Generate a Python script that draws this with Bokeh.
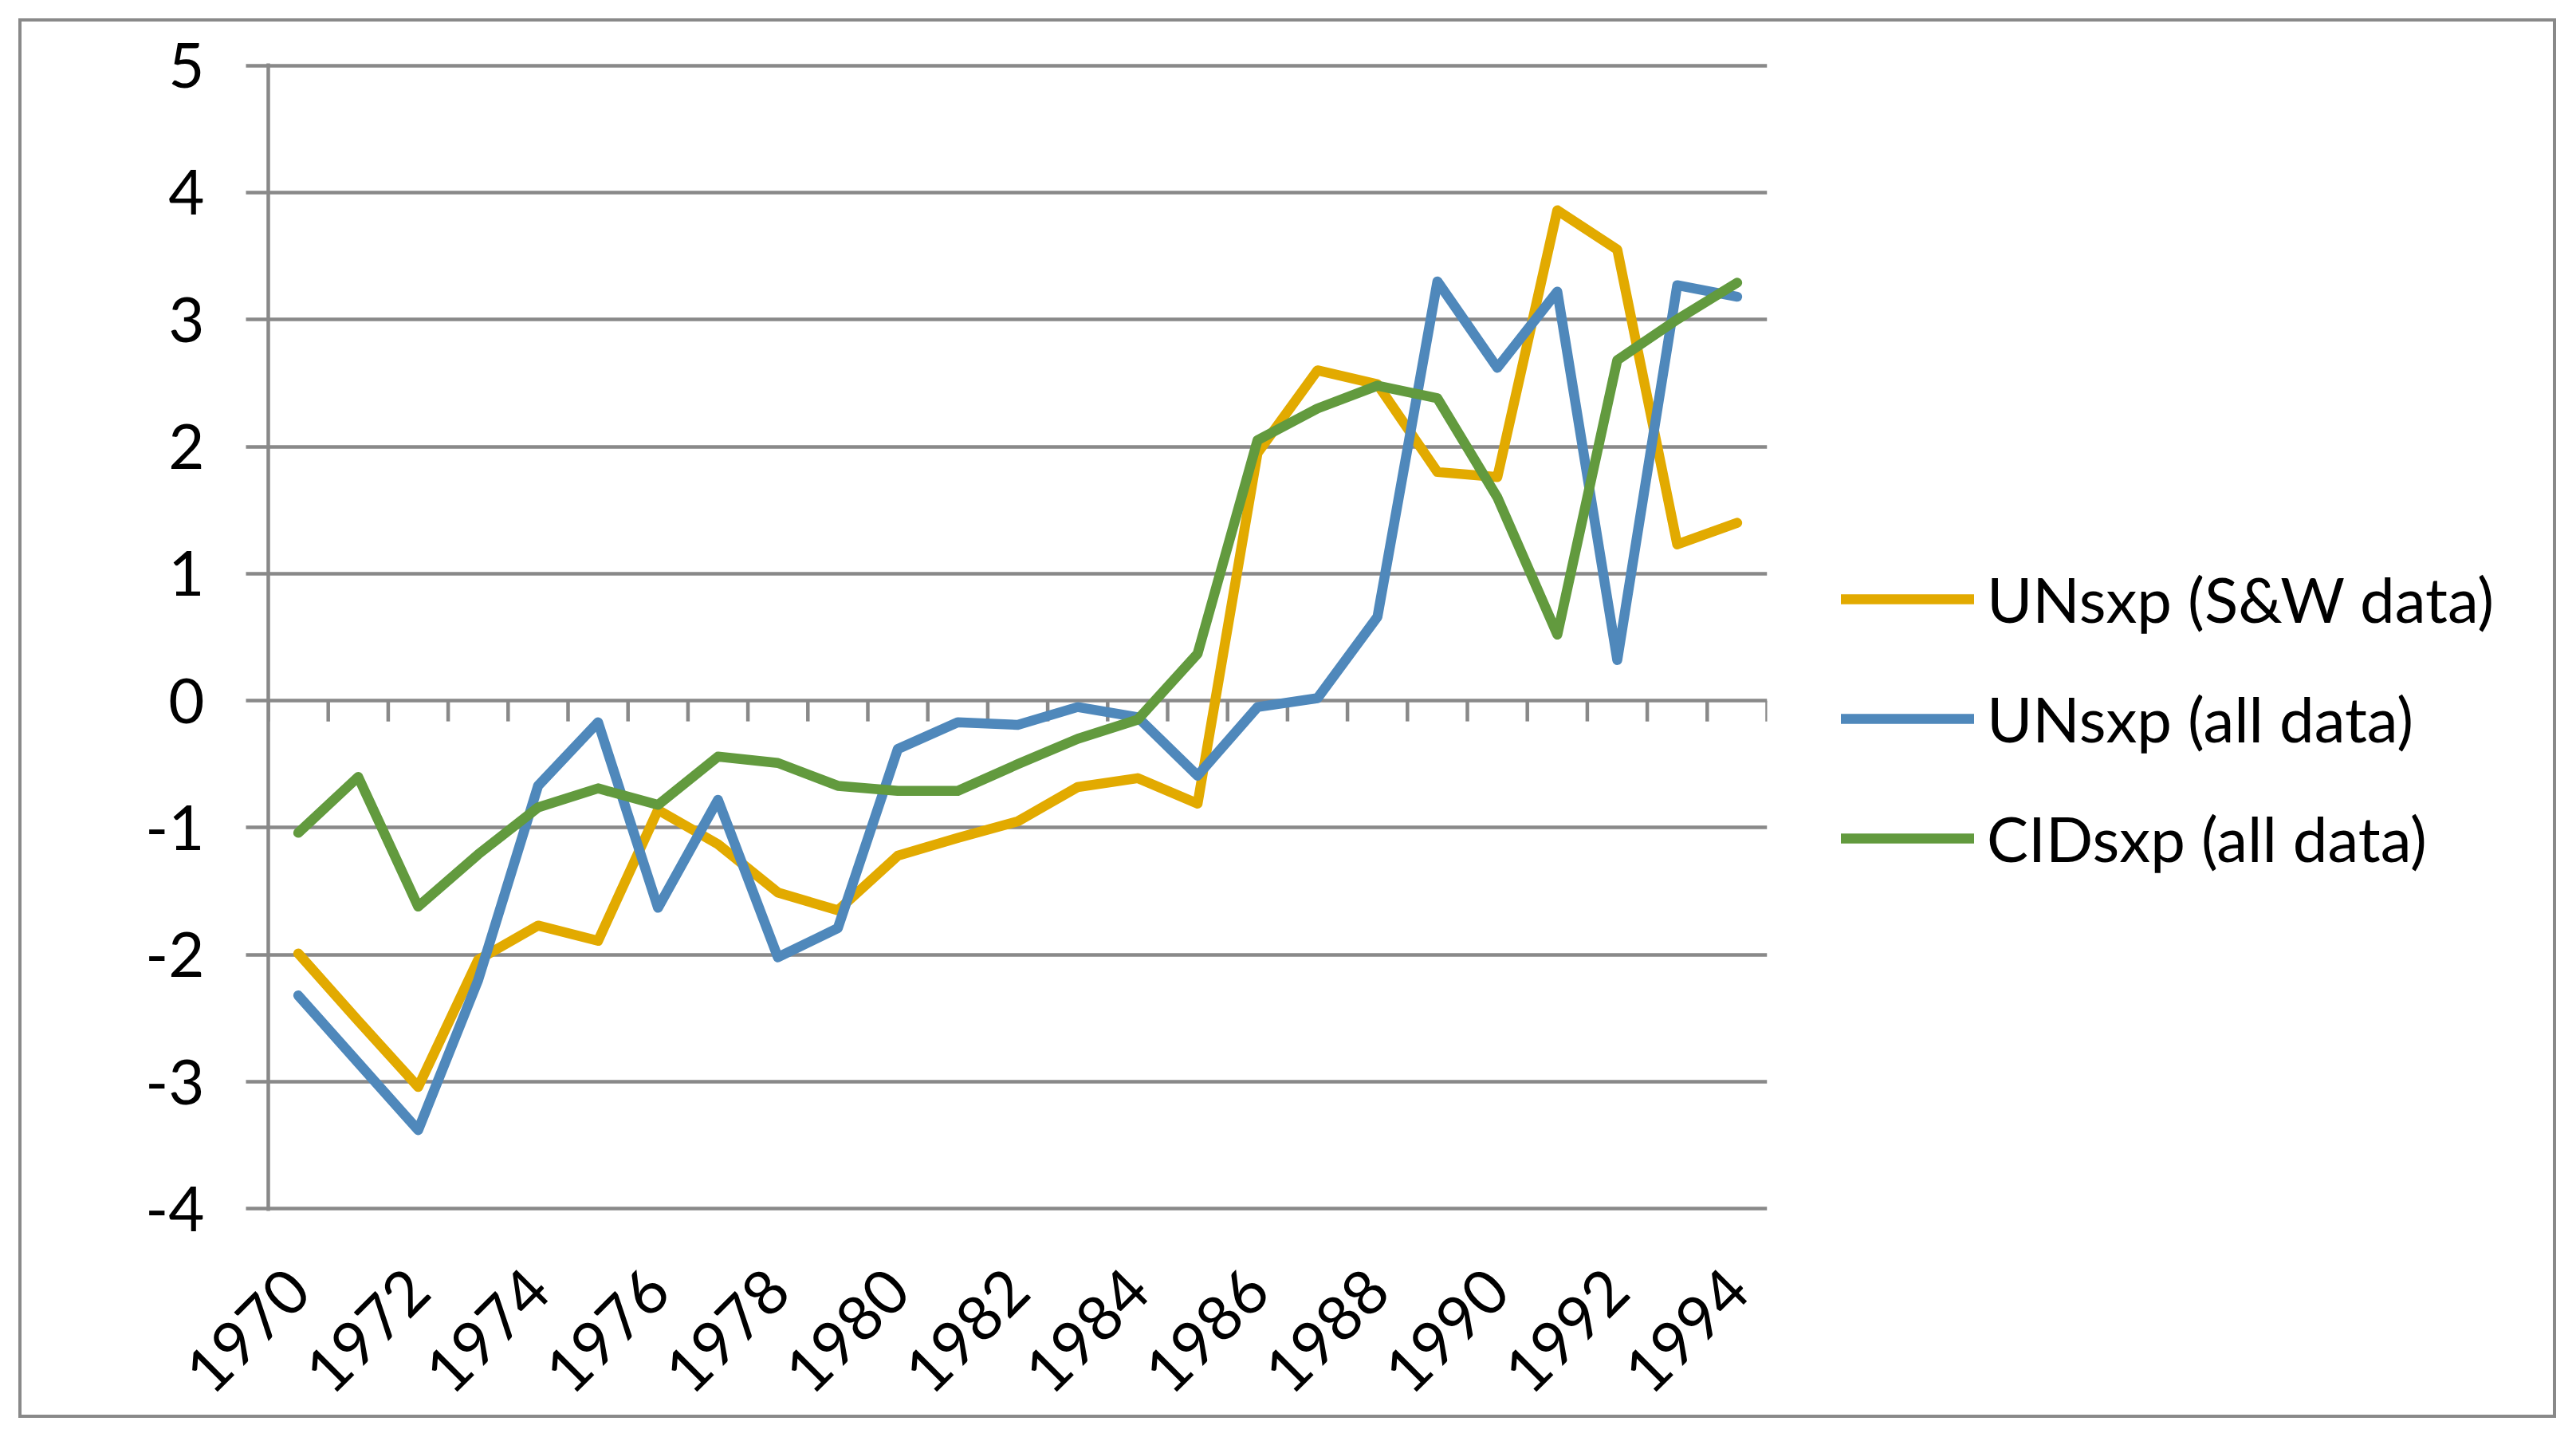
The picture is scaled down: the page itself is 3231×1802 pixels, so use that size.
from math import pi
from bokeh.plotting import figure
from bokeh.models import Range1d, FixedTicker, Legend, LegendItem, InlineStyleSheet
from bokeh.embed import file_html
from bokeh.resources import INLINE

# ---------------- data ----------------
years = list(range(1970, 1995))
un_sw = [-1.99, -2.52, -3.04, -2.04, -1.77, -1.89, -0.86, -1.13, -1.51, -1.65,
         -1.22, -1.08, -0.95, -0.68, -0.61, -0.81, 1.95, 2.60, 2.49, 1.80,
         1.76, 3.86, 3.55, 1.23, 1.40]
un_all = [-2.32, -2.85, -3.38, -2.20, -0.67, -0.17, -1.63, -0.78, -2.02, -1.79,
          -0.38, -0.17, -0.19, -0.05, -0.13, -0.59, -0.05, 0.02, 0.66, 3.30,
          2.62, 3.22, 0.32, 3.27, 3.18]
cid_all = [-1.04, -0.60, -1.62, -1.21, -0.84, -0.69, -0.82, -0.44, -0.49, -0.67,
           -0.71, -0.71, -0.50, -0.30, -0.15, 0.37, 2.05, 2.30, 2.48, 2.38,
           1.60, 0.52, 2.68, 3.00, 3.29]
series_names = ["UNsxp (S&W data)", "UNsxp (all data)", "CIDsxp (all data)"]
series_colors = ["#E2AA00", "#4F88BB", "#629A3E"]
y_ticks = [-4, -3, -2, -1, 0, 1, 2, 3, 4, 5]
x_label_years = years[::2]

FONT = "Lato"
GRAY = "#898989"
FS = "78px"
PAD = 0.016          # small range padding so edge gridlines are not clipped
TICK_LEN = 0.163     # category tick length (data units, ~26px)

p = figure(frame_width=1880, frame_height=1439,
           x_range=Range1d(years[0] - 0.5, years[-1] + 0.5),
           y_range=Range1d(y_ticks[0] - PAD, y_ticks[-1] + PAD),
           output_backend="svg", toolbar_location=None,
           min_border_left=336, min_border_top=79,
           min_border_right=1014, min_border_bottom=283)
p.outline_line_color = None
p.background_fill_color = "white"
p.border_fill_color = None
p.styles = {"outline": "4px solid #898989", "outline-offset": "-27px",
            "background-color": "white", "overflow": "visible"}
p.stylesheets = [InlineStyleSheet(css=":host { width: 3229px !important; "
                                      "max-width: 3229px !important; "
                                      "height: 1801px !important; "
                                      "overflow: visible !important; }")]

# x axis (labels only, at bottom)
xa = p.xaxis[0]
xa.ticker = FixedTicker(ticks=x_label_years)
xa.axis_line_color = None
xa.major_tick_line_color = None
xa.minor_tick_line_color = None
xa.major_label_orientation = pi / 4
xa.major_label_text_font = FONT
xa.major_label_text_font_size = FS
xa.major_label_text_color = "black"
xa.major_label_standoff = 80

# y axis
ya = p.yaxis[0]
ya.ticker = FixedTicker(ticks=y_ticks)
ya.major_label_overrides = {t: str(t) for t in y_ticks}
ya.axis_line_color = GRAY
ya.axis_line_width = 4.5
ya.major_tick_line_color = GRAY
ya.major_tick_line_width = 4.5
ya.major_tick_out = 28
ya.major_tick_in = 0
ya.minor_tick_line_color = None
ya.major_label_text_font = FONT
ya.major_label_text_font_size = FS
ya.major_label_text_color = "black"
ya.major_label_standoff = 52

p.xgrid.grid_line_color = None
p.ygrid.ticker = FixedTicker(ticks=y_ticks)
p.ygrid.grid_line_color = GRAY
p.ygrid.grid_line_width = 4.5

# category tick marks hanging below the zero line, between categories
boundaries = [y - 0.5 for y in years] + [years[-1] + 0.5]
p.segment(x0=boundaries, y0=[0] * len(boundaries),
          x1=boundaries, y1=[-TICK_LEN] * len(boundaries),
          line_color=GRAY, line_width=4.5)

renderers = []
for vals, col in zip([un_sw, un_all, cid_all], series_colors):
    r = p.line(years, vals, line_color=col, line_width=12.5,
               line_join="round", line_cap="round")
    renderers.append(r)

legend = Legend(items=[LegendItem(label=n, renderers=[r])
                       for n, r in zip(series_names, renderers)],
                location=(93, 392), orientation="vertical",
                glyph_width=167, glyph_height=150, label_height=150,
                spacing=0, padding=0, margin=0, label_standoff=16,
                label_text_font=FONT, label_text_font_size=FS,
                label_text_color="black",
                border_line_color=None, background_fill_alpha=0)
p.add_layout(legend, "right")

open("out.html", "w").write(file_html(p, INLINE))
